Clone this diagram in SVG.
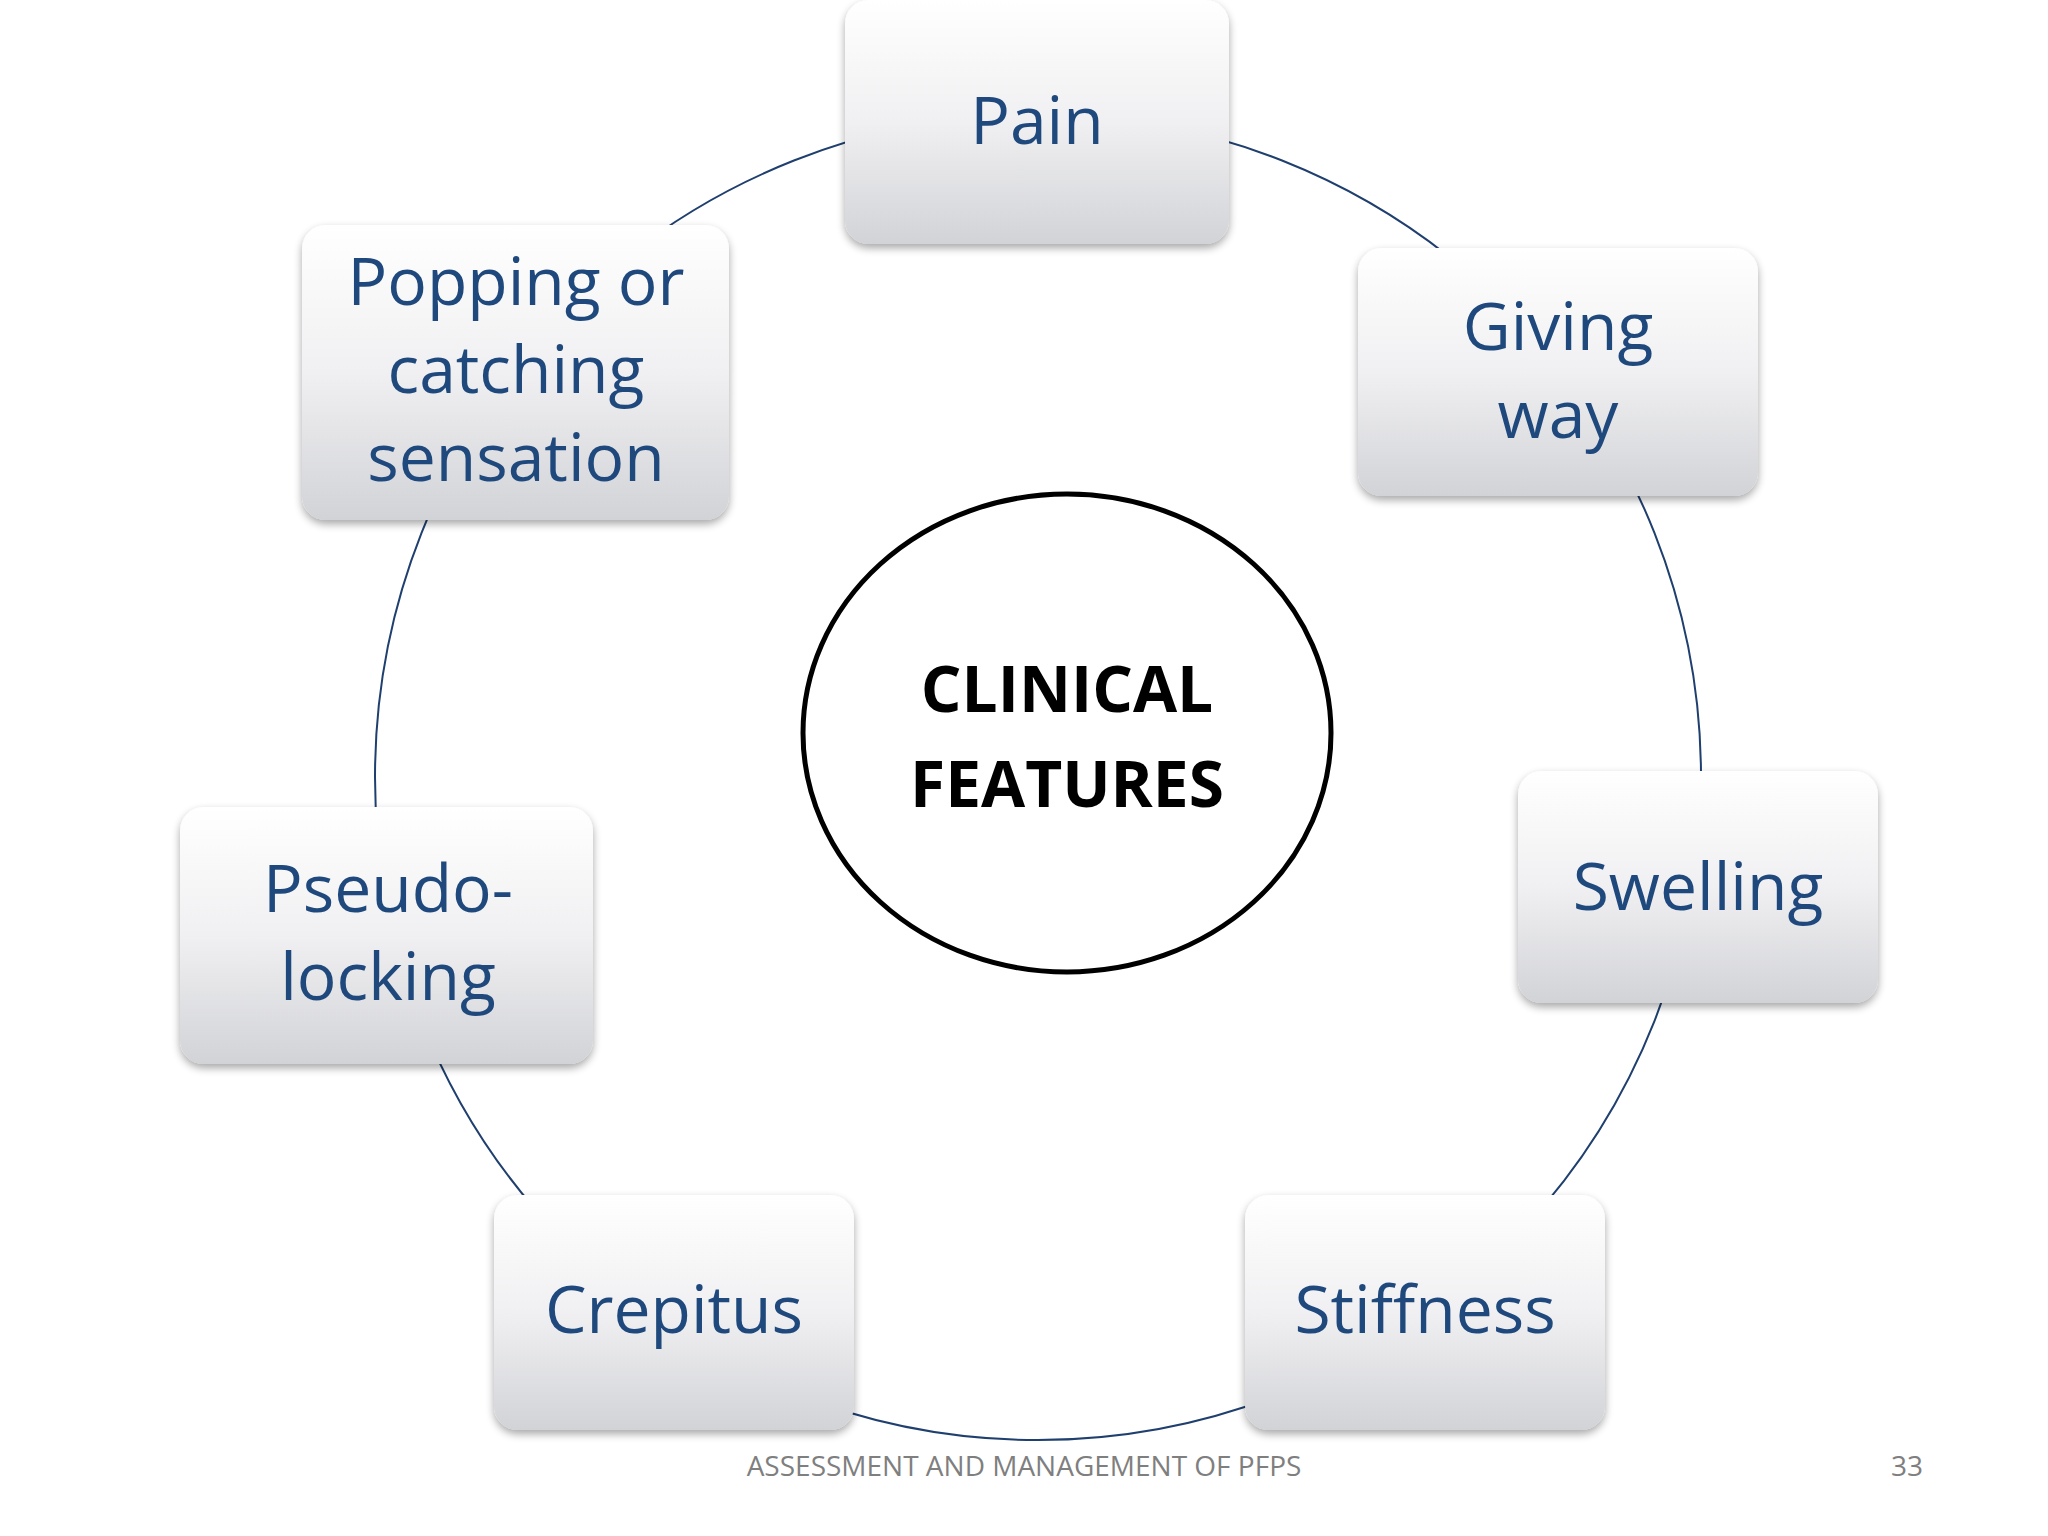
<svg xmlns="http://www.w3.org/2000/svg" width="2048" height="1536" viewBox="0 0 2048 1536">
<defs>
<linearGradient id="g" x1="0" y1="0" x2="0" y2="1">
<stop offset="0" stop-color="#ffffff"/><stop offset="0.5" stop-color="#f0f0f2"/><stop offset="1" stop-color="#d2d3d7"/>
</linearGradient>
<filter id="sh" x="-10%" y="-10%" width="120%" height="125%">
<feGaussianBlur in="SourceAlpha" stdDeviation="4"/><feOffset dy="4"/>
<feComponentTransfer><feFuncA type="linear" slope="0.35"/></feComponentTransfer>
<feMerge><feMergeNode/><feMergeNode in="SourceGraphic"/></feMerge>
</filter>
</defs>
<style>
.box{fill:url(#g);filter:url(#sh)}
.t{font-family:"Open Sans","Liberation Sans",sans-serif;font-size:66px;fill:#1f497d;text-anchor:middle}
.c{font-family:"Open Sans","Liberation Sans",sans-serif;font-size:64px;font-weight:bold;fill:#000;text-anchor:middle}
.f{font-family:"Open Sans","Liberation Sans",sans-serif;font-size:28px;fill:#7f7f7f}
</style>
<rect width="2048" height="1536" fill="#fff"/>
<g id="connectors">
<circle cx="1038" cy="777" r="663" fill="none" stroke="#1f3f6e" stroke-width="2"/>
</g>
<g id="pain"><rect class="box" x="845" y="0" width="384" height="244" rx="24"/><text class="t" x="1037" y="144">Pain</text></g>
<g id="giving"><rect class="box" x="1358" y="248" width="400" height="248" rx="24"/><text class="t" x="1558" y="350">Giving</text><text class="t" x="1558" y="438">way</text></g>
<g id="swelling"><rect class="box" x="1518" y="771" width="360" height="232" rx="24"/><text class="t" x="1698" y="910">Swelling</text></g>
<g id="stiffness"><rect class="box" x="1245" y="1195" width="360" height="235" rx="24"/><text class="t" x="1425" y="1333">Stiffness</text></g>
<g id="crepitus"><rect class="box" x="494" y="1195" width="360" height="235" rx="24"/><text class="t" x="674" y="1333">Crepitus</text></g>
<g id="pseudo"><rect class="box" x="180" y="807" width="413" height="257" rx="24"/><text class="t" x="388" y="912">Pseudo-</text><text class="t" x="388" y="1000">locking</text></g>
<g id="popping"><rect class="box" x="302" y="225" width="427" height="295" rx="24"/><text class="t" x="516" y="305">Popping or</text><text class="t" x="516" y="393">catching</text><text class="t" x="516" y="481">sensation</text></g>
<g id="center"><ellipse cx="1067" cy="733" rx="264" ry="239" fill="#fff" stroke="#000" stroke-width="5"/><text class="c" x="1067" y="712">CLINICAL</text><text class="c" x="1067" y="807">FEATURES</text></g>
<text class="f" x="1024" y="1476" text-anchor="middle">ASSESSMENT AND MANAGEMENT OF PFPS</text>
<text class="f" x="1907" y="1476" text-anchor="middle">33</text>
</svg>
